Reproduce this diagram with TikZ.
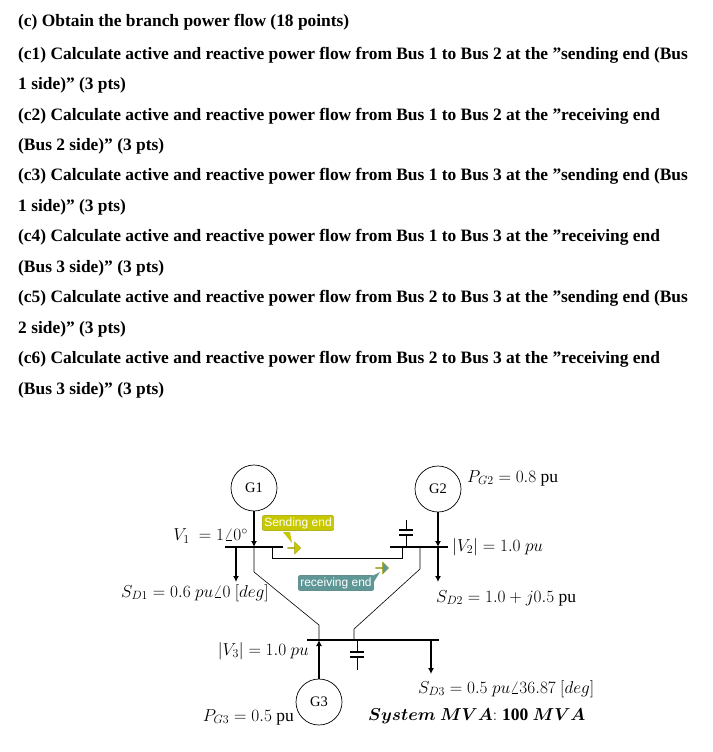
\documentclass[tikz,border=0pt]{standalone}
\usepackage{amsmath}
\usepackage{fontspec}
\setmainfont{Liberation Serif}
\newfontfamily\calloutfont{Liberation Sans}
\newcommand\qq{\symbol{34}}
\usetikzlibrary{arrows.meta,shapes.arrows}
\begin{document}
\begin{tikzpicture}[x=1pt,y=-1pt,
  q/.style={anchor=west,font=\bfseries\fontsize{17.4}{20}\selectfont,inner sep=0},
  bus/.style={line width=2.4pt},
  ln/.style={line width=0.6pt},
  arr/.style={line width=1.3pt,-{Latex[length=6pt,width=6pt]}},
  gen/.style={circle,draw,line width=0.7pt,minimum size=46pt,inner sep=0,font=\fontsize{14.5}{16}\selectfont},
  lab/.style={inner sep=0,font=\fontsize{17.5}{20}\selectfont},
  blk/.style={single arrow,inner sep=0,minimum height=13pt,minimum width=12pt,single arrow head extend=3pt},
  call/.style={rounded corners=2pt,draw=#1!80!black,fill=#1,text=white,font=\calloutfont\fontsize{12}{14}\selectfont,inner sep=2pt}]
\useasboundingbox (0,0) rectangle (712,752);
\fill[white] (0,0) rectangle (712,752);
\node[q] (t0) at (18,22) {(c) Obtain the branch power flow (18 points)};
\node[q] (t1) at (18,55) {(c1) Calculate active and reactive power flow from Bus 1 to Bus 2 at the \qq sending end (Bus};
\node[q] (t2) at (18,85) {1 side)\qq\ (3 pts)};
\node[q] (t3) at (18,116) {(c2) Calculate active and reactive power flow from Bus 1 to Bus 2 at the \qq receiving end};
\node[q] (t4) at (18,146) {(Bus 2 side)\qq\ (3 pts)};
\node[q] (t5) at (18,176) {(c3) Calculate active and reactive power flow from Bus 1 to Bus 3 at the \qq sending end (Bus};
\node[q] (t6) at (18,207) {1 side)\qq\ (3 pts)};
\node[q] (t7) at (18,237) {(c4) Calculate active and reactive power flow from Bus 1 to Bus 3 at the \qq receiving end};
\node[q] (t8) at (18,268) {(Bus 3 side)\qq\ (3 pts)};
\node[q] (t9) at (18,298) {(c5) Calculate active and reactive power flow from Bus 2 to Bus 3 at the \qq sending end (Bus};
\node[q] (t10) at (18,329) {2 side)\qq\ (3 pts)};
\node[q] (t11) at (18,359) {(c6) Calculate active and reactive power flow from Bus 2 to Bus 3 at the \qq receiving end};
\node[q] (t12) at (18,390) {(Bus 3 side)\qq\ (3 pts)};
% generators
\node[gen] (G1) at (254,488) {G1};
\node[gen] (G2) at (438,489) {G2};
\node[gen] (G3) at (319,702) {G3};
% buses
\draw[bus] (225,547) -- (283,547);
\draw[bus] (390,547) -- (448,547);
\draw[bus] (307,640) -- (439,640);
\coordinate (b1) at (254,547); \coordinate (b2) at (438,547); \coordinate (b3) at (319,640);
\draw[arr] (G1.south) -- (b1);
\draw[arr] (G2.south) -- (b2);
\draw[arr] (G3.north) -- (b3);
% loads
\draw[arr] (236,547) -- (236,582);
\draw[arr] (438,547) -- (438,582);
\draw[arr] (431,640) -- (431,674);
% lines
\draw[ln] (272,547) -- (272,558) -- (402,558) -- (402,547);
\draw[ln] (254,547) -- (254,572) -- (319,625) -- (319,640);
\draw[ln] (420,547) -- (420,569) -- (354,629) -- (354,640);
% capacitors
\draw[ln] (406,547) -- (406,535) (406,530) -- (406,520);
\draw[line width=1.3pt] (399,530) -- (413,530) (399,535) -- (413,535);
\draw[ln] (357,640) -- (357,652) (357,657) -- (357,670);
\draw[line width=1.3pt] (350,652) -- (364,652) (350,657) -- (364,657);
% callouts
\definecolor{sendc}{RGB}{200,200,0}
\definecolor{recc}{RGB}{95,150,150}
\node[call=sendc] (se) at (298,523) {Sending end};
\node[blk,fill=sendc,draw=sendc!80!black] (sa) at (294,548) {};
\fill[sendc] (283,532) -- (290,532) -- (292,543) -- cycle;
\node[call=recc] (re) at (336,583) {receiving end};
\node[blk,fill=recc,draw=sendc!80!black] (ra) at (382,568) {};
\fill[recc] (372,576) -- (372,585) -- (380,572) -- cycle;
% labels
\node[lab,anchor=east] (v1) at (248,536) {$V_1\ = 1\angle 0^\circ$};
\node[lab,anchor=west] (pg2) at (467,478) {$P_{G2}=0.8\ \mathrm{pu}$};
\node[lab,anchor=west] (v2) at (452,547) {$|V_2|=1.0\ pu$};
\node[lab,anchor=east] (sd1) at (269,593) {$S_{D1}=0.6\ pu\angle 0\ [deg]$};
\node[lab,anchor=west] (sd2) at (436,598) {$S_{D2}=1.0+j0.5\ \mathrm{pu}$};
\node[lab,anchor=east] (v3) at (309,651) {$|V_3|=1.0\ pu$};
\node[lab,anchor=west] (sd3) at (418,689) {$S_{D3}=0.5\ pu\angle 36.87\ [deg]$};
\node[lab,anchor=east] (pg3) at (294,717) {$P_{G3}=0.5\ \mathrm{pu}$};
\node[lab,anchor=west] (mva) at (368,716) {$\boldsymbol{System\ MVA}\mathbf{:100}\ \boldsymbol{MVA}$};
\end{tikzpicture}
\end{document}
